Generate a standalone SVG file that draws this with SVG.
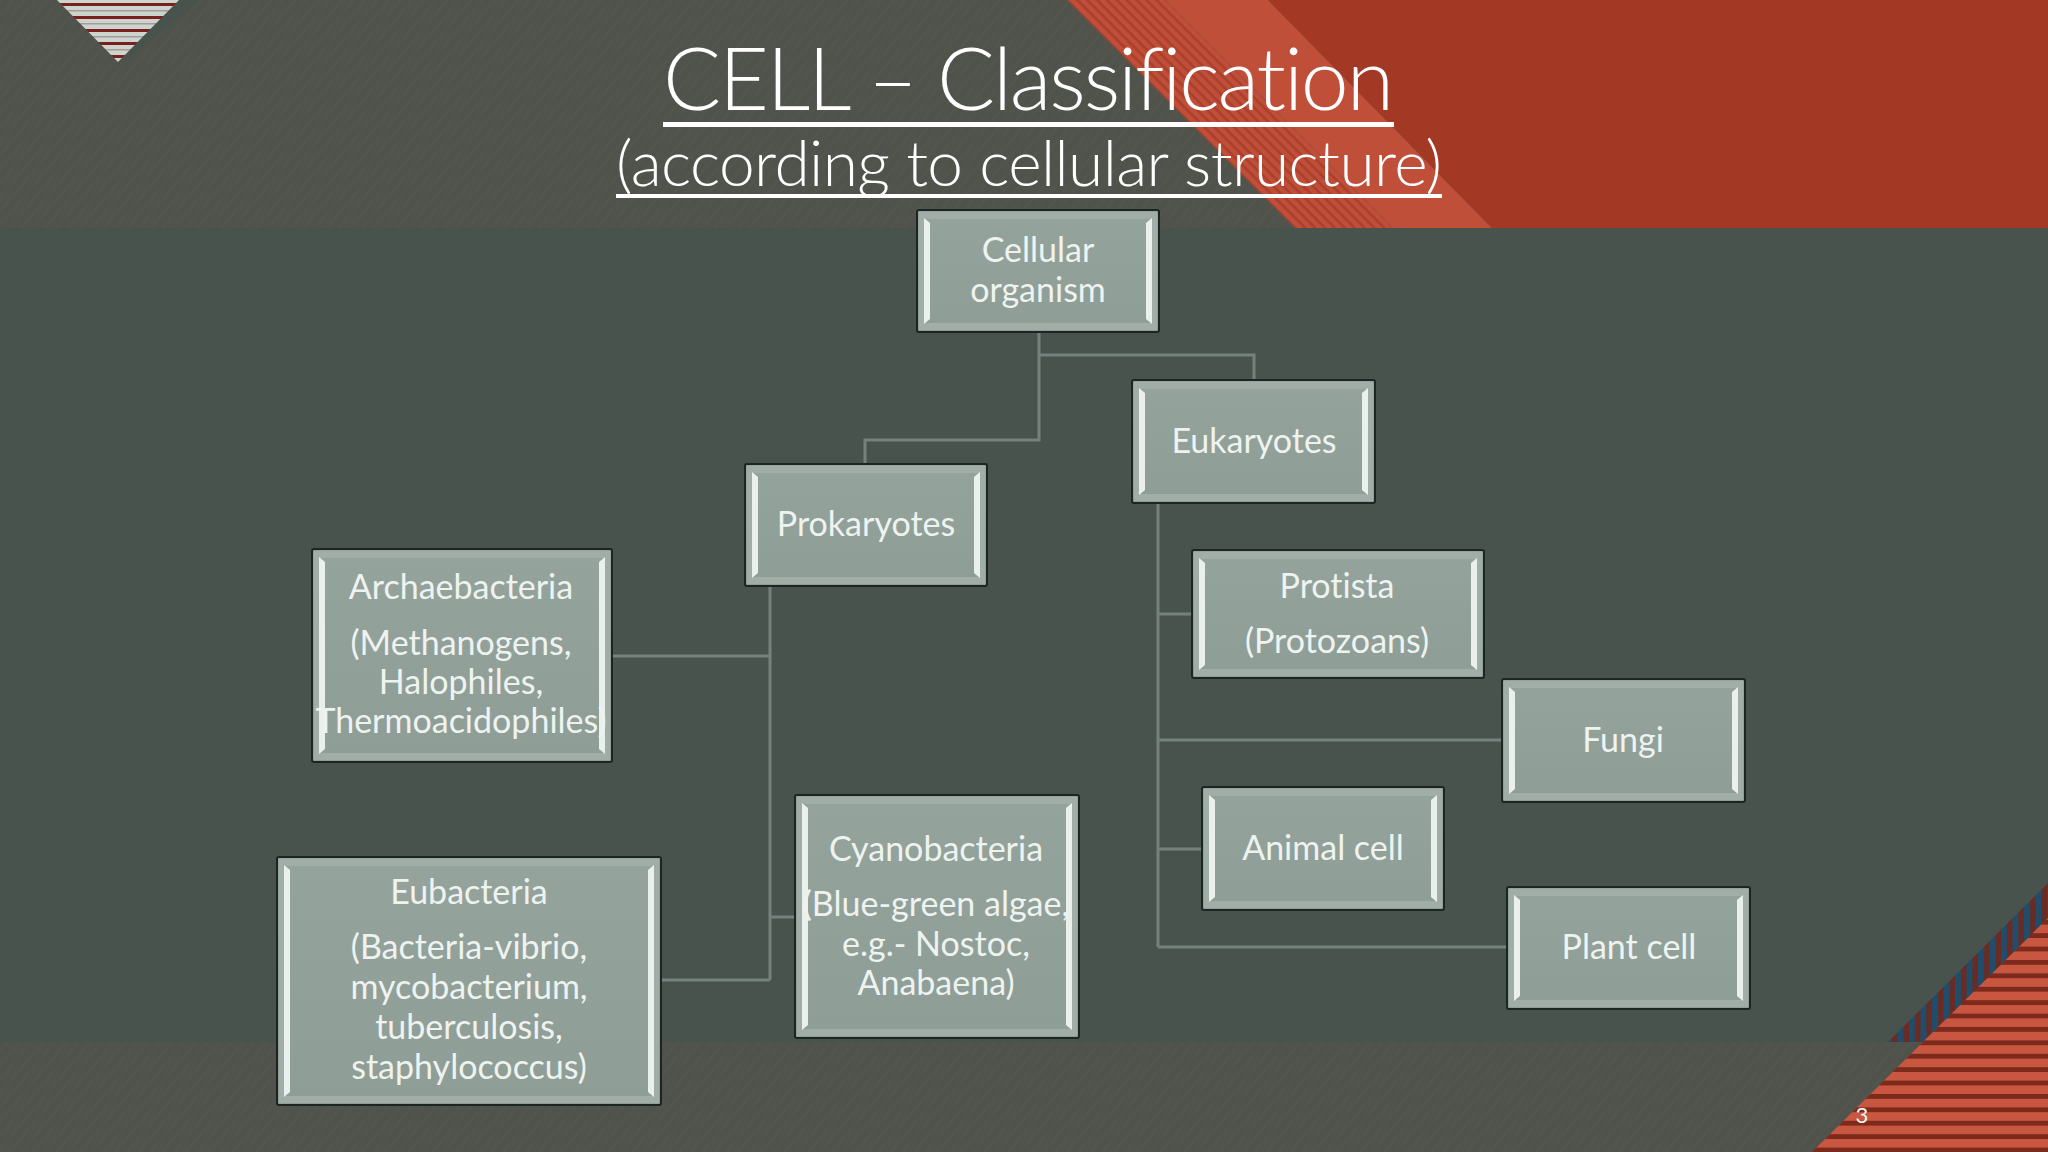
<svg xmlns="http://www.w3.org/2000/svg" width="2048" height="1152" viewBox="0 0 2048 1152">
<style>
.box{fill:url(#nodeFill);stroke:#1c2523;stroke-width:2}
.frame{fill:none;stroke:#a1aea8;stroke-width:7}
.bar{fill:#eaf1ed}
.t{font-family:"Lato","Carlito","Liberation Sans",sans-serif;font-size:34px;fill:#eef3f0;text-anchor:middle;font-variant-ligatures:none;transform:translateY(1px)}
.title{font-family:"Lato","Carlito","Liberation Sans",sans-serif;font-weight:300;fill:#fff;text-anchor:middle;font-variant-ligatures:none}
.ul{fill:#fff}
#connectors path{fill:none;stroke:#74817c;stroke-width:3}
</style>
<defs>
<linearGradient id="nodeFill" x1="0" y1="0" x2="0" y2="1"><stop offset="0" stop-color="#95a39d"/><stop offset="1" stop-color="#8f9d97"/></linearGradient>
<pattern id="streak" patternUnits="userSpaceOnUse" width="9" height="9" patternTransform="rotate(-50)"><rect width="9" height="9" fill="#50534b"/><rect width="9" height="1.5" fill="#54564d"/></pattern>
<pattern id="redDiag" patternUnits="userSpaceOnUse" width="7" height="7" patternTransform="rotate(45)"><rect width="7" height="7" fill="#c04f3a"/><rect width="7" height="2.6" fill="#ab3f2b"/></pattern>
<pattern id="triStripe" patternUnits="userSpaceOnUse" width="13" height="13" y="3"><rect width="13" height="13" fill="#ccd4ce"/><rect width="13" height="3" fill="#7c1f1f"/><rect y="7" width="13" height="1.5" fill="#a89a98"/></pattern>
<pattern id="redHoriz" patternUnits="userSpaceOnUse" width="13.4" height="13.4"><rect width="13.4" height="13.4" fill="#c95640"/><rect y="8.6" width="13.4" height="4.8" fill="#7b2a1b"/></pattern>
<pattern id="blueVert" patternUnits="userSpaceOnUse" width="11.5" height="11.5"><rect width="11.5" height="11.5" fill="#1f4d6b"/><rect x="6" width="5.5" height="11.5" fill="#6a2b22"/></pattern>
</defs>

<rect width="2048" height="1152" fill="#49534e"/>
<rect width="2048" height="228" fill="url(#streak)"/>
<rect y="1042" width="2048" height="110" fill="url(#streak)"/>
<polygon points="1067,0 1165,0 1393,228 1295,228" fill="url(#redDiag)"/>
<polygon points="1165,0 1268,0 1492,228 1393,228" fill="#c04f3a"/>
<polygon points="1268,0 2048,0 2048,228 1492,228" fill="#a33825"/>
<polygon points="179,0 200,0 125,62 118,62" fill="#49534e"/>
<polygon points="57,0 179,0 118,62" fill="url(#triStripe)"/>
<polygon points="1888,1042 2048,883 2048,918 1923,1042" fill="url(#blueVert)"/>
<polygon points="1812,1152 2048,918 2048,1152" fill="url(#redHoriz)"/>

<text class="title" x="1028.500" y="110" font-size="86" textLength="731">CELL – Classification</text>
<rect class="ul" x="663" y="122" width="731" height="5"/>
<text class="title" x="1029" y="186" font-size="64" textLength="826">(according to cellular structure)</text>
<rect class="ul" x="616" y="194" width="826" height="4"/>

<g id="connectors">
<path d="M1039 332V440H865V464"/>
<path d="M1039 355H1254V380"/>
<path d="M770 586V980"/>
<path d="M612 656H770"/>
<path d="M770 917H795"/>
<path d="M661 980H770"/>
<path d="M1158 503V947"/>
<path d="M1158 614H1192"/>
<path d="M1158 740H1502"/>
<path d="M1158 849H1202"/>
<path d="M1158 947H1507"/>
</g>

<g id="node-cellular">
<rect class="box" x="917" y="210" width="242" height="122" rx="2"/>
<rect class="frame" x="922.5" y="215.500" width="231" height="111"/>
<polygon class="bar" points="924,218 930,223 930,319 924,324"/><polygon class="bar" points="1152,218 1146,223 1146,319 1152,324"/>
<text class="t" x="1038" y="261">Cellular</text><text class="t" x="1038" y="301">organism</text>
</g>
<g id="node-eukaryotes">
<rect class="box" x="1132" y="380" width="243" height="123" rx="2"/>
<rect class="frame" x="1137.5" y="385.5" width="232" height="112"/>
<polygon class="bar" points="1139,388 1145,393 1145,490 1139,495"/><polygon class="bar" points="1368,388 1362,393 1362,490 1368,495"/>
<text class="t" x="1254" y="452">Eukaryotes</text>
</g>
<g id="node-prokaryotes">
<rect class="box" x="745" y="464" width="242" height="122" rx="2"/>
<rect class="frame" x="750.5" y="469.5" width="231" height="111"/>
<polygon class="bar" points="752,472 758,477 758,573 752,578"/><polygon class="bar" points="980,472 974,477 974,573 980,578"/>
<text class="t" x="866" y="535">Prokaryotes</text>
</g>
<g id="node-archaebacteria">
<rect class="box" x="312" y="549" width="300" height="213" rx="2"/>
<rect class="frame" x="317.5" y="554.5" width="289" height="202"/>
<polygon class="bar" points="319,557 325,562 325,749 319,754"/><polygon class="bar" points="605,557 599,562 599,749 605,754"/>
<text class="t" x="461" y="598">Archaebacteria</text><text class="t" x="461" y="654">(Methanogens,</text><text class="t" x="461" y="693">Halophiles,</text><text class="t" x="461" y="732">Thermoacidophiles)</text>
</g>
<g id="node-protista">
<rect class="box" x="1192" y="550" width="292" height="128" rx="2"/>
<rect class="frame" x="1197.5" y="555.5" width="281" height="117"/>
<polygon class="bar" points="1199,558 1205,563 1205,665 1199,670"/><polygon class="bar" points="1477,558 1471,563 1471,665 1477,670"/>
<text class="t" x="1337" y="597">Protista</text><text class="t" x="1337" y="652">(Protozoans)</text>
</g>
<g id="node-fungi">
<rect class="box" x="1502" y="679" width="243" height="123" rx="2"/>
<rect class="frame" x="1507.5" y="684.5" width="232" height="112"/>
<polygon class="bar" points="1509,687 1515,692 1515,789 1509,794"/><polygon class="bar" points="1738,687 1732,692 1732,789 1738,794"/>
<text class="t" x="1623" y="751">Fungi</text>
</g>
<g id="node-animal">
<rect class="box" x="1202" y="787" width="242" height="123" rx="2"/>
<rect class="frame" x="1207.5" y="792.5" width="231" height="112"/>
<polygon class="bar" points="1209,795 1215,800 1215,897 1209,902"/><polygon class="bar" points="1437,795 1431,800 1431,897 1437,902"/>
<text class="t" x="1323" y="859">Animal cell</text>
</g>
<g id="node-plant">
<rect class="box" x="1507" y="887" width="243" height="122" rx="2"/>
<rect class="frame" x="1512.5" y="892.5" width="232" height="111"/>
<polygon class="bar" points="1514,895 1520,900 1520,996 1514,1001"/><polygon class="bar" points="1743,895 1737,900 1737,996 1743,1001"/>
<text class="t" x="1629" y="958">Plant cell</text>
</g>
<g id="node-cyanobacteria">
<rect class="box" x="795" y="795" width="284" height="243" rx="2"/>
<rect class="frame" x="800.5" y="800.5" width="273" height="232"/>
<polygon class="bar" points="802,803 808,808 808,1025 802,1030"/><polygon class="bar" points="1072,803 1066,808 1066,1025 1072,1030"/>
<text class="t" x="936" y="860">Cyanobacteria</text><text class="t" x="936" y="915">(Blue-green algae,</text><text class="t" x="936" y="955">e.g.- Nostoc,</text><text class="t" x="936" y="994">Anabaena)</text>
</g>
<g id="node-eubacteria">
<rect class="box" x="277" y="857" width="384" height="248" rx="2"/>
<rect class="frame" x="282.5" y="862.5" width="373" height="237"/>
<polygon class="bar" points="284,865 290,870 290,1092 284,1097"/><polygon class="bar" points="654,865 648,870 648,1092 654,1097"/>
<text class="t" x="469" y="903">Eubacteria</text><text class="t" x="469" y="958">(Bacteria-vibrio,</text><text class="t" x="469" y="998">mycobacterium,</text><text class="t" x="469" y="1038">tuberculosis,</text><text class="t" x="469" y="1078">staphylococcus)</text>
</g>
<text x="1862" y="1123" font-family="Lato,Carlito,'Liberation Sans',sans-serif" font-size="22" fill="#f1f6f3" text-anchor="middle">3</text>
</svg>
